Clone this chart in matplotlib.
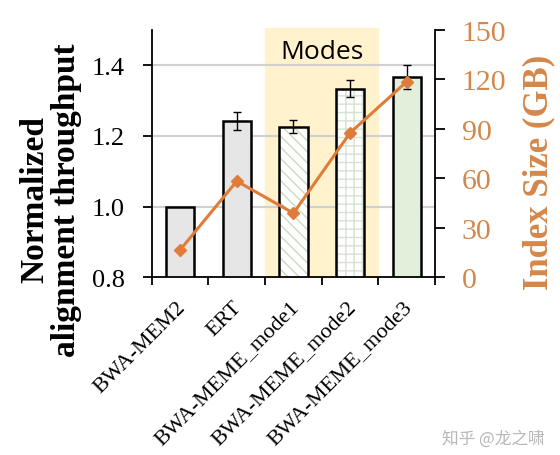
import matplotlib.pyplot as plt
import matplotlib.transforms as mtransforms
import numpy as np

categories = ["BWA-MEM2", "ERT", "BWA-MEME_mode1", "BWA-MEME_mode2", "BWA-MEME_mode3"]
throughput = [1.0, 1.243, 1.226, 1.334, 1.368]
throughput_err = [0.0, 0.025, 0.018, 0.023, 0.034]
index_size = [16.5, 58.3, 38.8, 87.6, 118.7]

orange = "#E07B39"
text_orange = "#D4874A"
bar_colors = ["#E7E6E6", "#E7E6E6", "white", "white", "#E2EFDA"]
hatches = [None, None, "\\\\\\", "++", None]

plt.rcParams['hatch.linewidth'] = 1.0
serif = "Liberation Serif"

fig = plt.figure(figsize=(5.6, 4.56), dpi=100)
ax = fig.add_axes([0.271, 0.39, 0.506, 0.542])
x = np.arange(len(categories))

ax.set_xlim(-0.5, len(categories) - 0.5)
ax.set_ylim(0.8, 1.5)

# shaded region for the modes
ax.axvspan(1.5, 3.5, ymin=0, ymax=1.01, color="#FFF2CC", zorder=0, clip_on=False)
ax.text(2.5, 1.44, "Modes", ha="center", va="center", fontsize=19, family="Open Sans")

for yv in [1.0, 1.2, 1.4]:
    ax.axhline(yv, color="#D0D0D0", lw=1.5, zorder=1)

for i in range(len(categories)):
    hatch_col = "#C8DCC0" if hatches[i] == "\\\\\\" else "#D5E2D0"
    ax.bar(x[i], throughput[i], bottom=0, width=0.5, color=bar_colors[i],
           edgecolor=hatch_col, hatch=hatches[i], lw=0, zorder=2)
    ax.bar(x[i], throughput[i], width=0.5, fill=False, edgecolor="black", lw=1.8, zorder=3)
    if throughput_err[i] > 0:
        ax.errorbar(x[i], throughput[i], yerr=throughput_err[i], color="black",
                    capsize=3, lw=1, capthick=1, zorder=4)

ax.set_xticks(np.arange(-0.5, len(categories), 1.0))
ax.set_xticklabels([])
ax.tick_params(axis="x", which="major", length=6, width=1.3, direction="out")

# category names as rotated text under each bar
shift = mtransforms.ScaledTranslation(-4 / 100, -20 / 100, fig.dpi_scale_trans)
for xi, name in zip(x, categories):
    ax.text(xi, 0.0, name, transform=ax.get_xaxis_transform() + shift,
            rotation=45, ha="right", va="top", rotation_mode="anchor",
            family=serif, fontsize=16)

ax.set_yticks([0.8, 1.0, 1.2, 1.4])
ax.set_yticklabels(["0.8", "1.0", "1.2", "1.4"], family=serif, fontsize=19)
ax.tick_params(axis="y", length=6.5, width=1.3, direction="out", pad=13)

for s in ["top", "right"]:
    ax.spines[s].set_visible(False)
ax.spines["left"].set_linewidth(1.3)
ax.spines["bottom"].set_linewidth(1.3)

ax.set_ylabel("Normalized\nalignment throughput", family=serif, fontsize=24,
              fontweight="bold", linespacing=1.0)
ax.yaxis.set_label_coords(-0.247, 0.317)

ax2 = ax.twinx()
ax2.set_ylim(0, 150)
ax2.plot(x, index_size, color=orange, lw=2.2, marker="D", markersize=6, zorder=5)
ax2.set_yticks(np.arange(0, 151, 30))
ax2.set_yticklabels([str(v) for v in range(0, 151, 30)], family=serif, fontsize=21.5,
                    color=text_orange)
ax2.tick_params(axis="y", length=7, width=1.3, direction="out", pad=12)
for s in ["top", "left", "bottom"]:
    ax2.spines[s].set_visible(False)
ax2.spines["right"].set_linewidth(1.3)
ax2.set_ylabel("Index Size (GB)", family=serif, fontsize=25, fontweight="bold",
               color=text_orange, rotation=90)
ax2.yaxis.set_label_coords(1.307, 0.43)

fig.text(0.973, 0.018, "知乎 @龙之啸", ha="right", va="bottom", fontsize=12,
         color="#B8B8B8", family=["Noto Sans CJK SC", "DejaVu Sans"])

fig.savefig("out.png", dpi=100)
